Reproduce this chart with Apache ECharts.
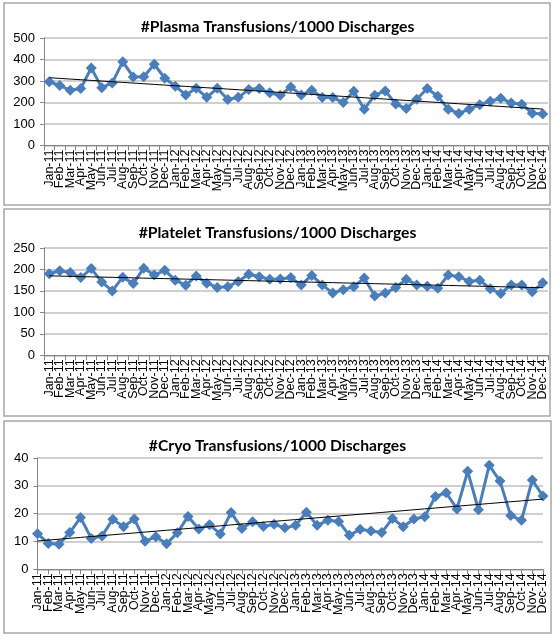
<!DOCTYPE html>
<html>
<head>
<meta charset="utf-8">
<script src="https://cdn.jsdelivr.net/npm/echarts@6/dist/echarts.min.js"></script>
<style>
html,body{margin:0;padding:0;background:#fff;}
#c{width:555px;height:638px;}
</style>
</head>
<body>
<div id="c"></div>
<script>
const months = ['Jan','Feb','Mar','Apr','May','Jun','Jul','Aug','Sep','Oct','Nov','Dec'];
const years = ['11','12','13','14'];
const categories = [];
years.forEach(y => months.forEach(m => categories.push(m + '-' + y)));

const plasmaTitle = '#Plasma Transfusions/1000 Discharges';
const plateletTitle = '#Platelet Transfusions/1000 Discharges';
const cryoTitle = '#Cryo Transfusions/1000 Discharges';

const plasma = [296,279,257,265,361,269,291,390,319,320,378,313,
                276,235,266,224,266,214,224,260,265,245,234,272,
                235,257,223,223,200,252,169,234,254,193,172,215,
                265,229,169,149,169,190,206,220,198,192,150,146];
const platelet = [190,197,193,181,202,171,150,182,167,203,187,198,
                  175,163,185,168,158,160,172,189,183,177,178,181,
                  164,186,164,145,153,160,180,138,145,158,177,164,
                  161,156,187,183,172,175,155,144,164,164,148,169];
const cryo = [12.8,9.3,9.0,13.2,18.6,11.1,12.0,18.0,15.3,18.1,10.1,11.7,
              9.2,13.1,19.0,14.5,16.0,12.7,20.4,14.7,17.1,15.4,16.2,14.9,
              15.8,20.5,15.8,17.6,17.2,12.2,14.4,13.8,13.2,18.3,15.3,18.1,
              18.9,26.2,27.5,21.7,35.2,21.4,37.4,31.7,19.3,17.6,32.1,26.3];

const plasmaAxis = {min:0, max:500, interval:100};
const plateletAxis = {min:0, max:250, interval:50};
const cryoAxis = {min:0, max:40, interval:10};

// Linear (least squares) trendline derived from the data, as Excel does
function trend(arr){
  const n = arr.length;
  let sx=0, sy=0, sxx=0, sxy=0;
  arr.forEach((v,i)=>{ const x=i+1; sx+=x; sy+=v; sxx+=x*x; sxy+=x*v; });
  const b = (n*sxy - sx*sy)/(n*sxx - sx*sx);
  const a = (sy - b*sx)/n;
  return arr.map((v,i)=> +(a + b*(i+1)).toFixed(3));
}

const BLUE = '#4a7ebb';
const panels = [
  {title: plasmaTitle, data: plasma, axis: plasmaAxis, titleTop: 14, grid:{left:44, right:7, top:38, height:107.5}, gap:true, box:[4,3,546,202]},
  {title: plateletTitle, data: platelet, axis: plateletAxis, titleTop: 220, grid:{left:44, right:7, top:248, height:107.3}, gap:true, box:[4,209,546,207]},
  {title: cryoTitle, data: cryo, axis: cryoAxis, titleTop: 433, grid:{left:37.5, right:12, top:458, height:111.3}, gap:false, box:[4,421,547,212]}
];

const option = {
  animation:false,
  backgroundColor:'#fff',
  title: panels.map(p=>({
    text:p.title, left:'center', top:p.titleTop,
    textStyle:{fontFamily:'Lato', fontWeight:'bold', fontSize:15.7, color:'#000'}
  })),
  graphic: panels.map(p=>({
    type:'rect', shape:{x:p.box[0], y:p.box[1], width:p.box[2], height:p.box[3]},
    style:{fill:'none', stroke:'#a6a6a6', lineWidth:1.5}, z:-1
  })),
  grid: panels.map(p=>Object.assign({containLabel:false}, p.grid)),
  xAxis: panels.map((p,i)=>({
    type:'category', gridIndex:i, data:categories, boundaryGap:p.gap,
    axisLine:{lineStyle:{color:'#868686', width:1}},
    axisTick:{show:true, alignWithLabel:!p.gap, interval:0, length:5, lineStyle:{color:'#868686'}},
    axisLabel:{interval:0, rotate:90, fontFamily:'Liberation Sans', fontSize:12.5, color:'#000', margin:4}
  })),
  yAxis: panels.map((p,i)=>({
    type:'value', gridIndex:i, min:p.axis.min, max:p.axis.max, interval:p.axis.interval,
    axisLine:{show:true, lineStyle:{color:'#868686', width:1}},
    axisTick:{show:true, length:4, lineStyle:{color:'#868686'}},
    splitLine:{lineStyle:{color:'#bfbfbf', width:1.5}},
    axisLabel:{fontFamily:'Liberation Sans', fontSize:13, color:'#000', margin:9}
  })),
  series: []
};
panels.forEach((p,i)=>{
  option.series.push({
    type:'line', xAxisIndex:i, yAxisIndex:i, data:p.data,
    symbol:'diamond', symbolSize:11, showSymbol:true,
    lineStyle:{color:BLUE, width:3}, itemStyle:{color:BLUE}, z:3
  });
  option.series.push({
    type:'line', xAxisIndex:i, yAxisIndex:i, data:trend(p.data),
    symbol:'none', lineStyle:{color:'#000', width:1}, z:4, silent:true
  });
});

const chart = echarts.init(document.getElementById('c'), null, {renderer:'canvas'});
chart.setOption(option);
</script>
</body>
</html>
